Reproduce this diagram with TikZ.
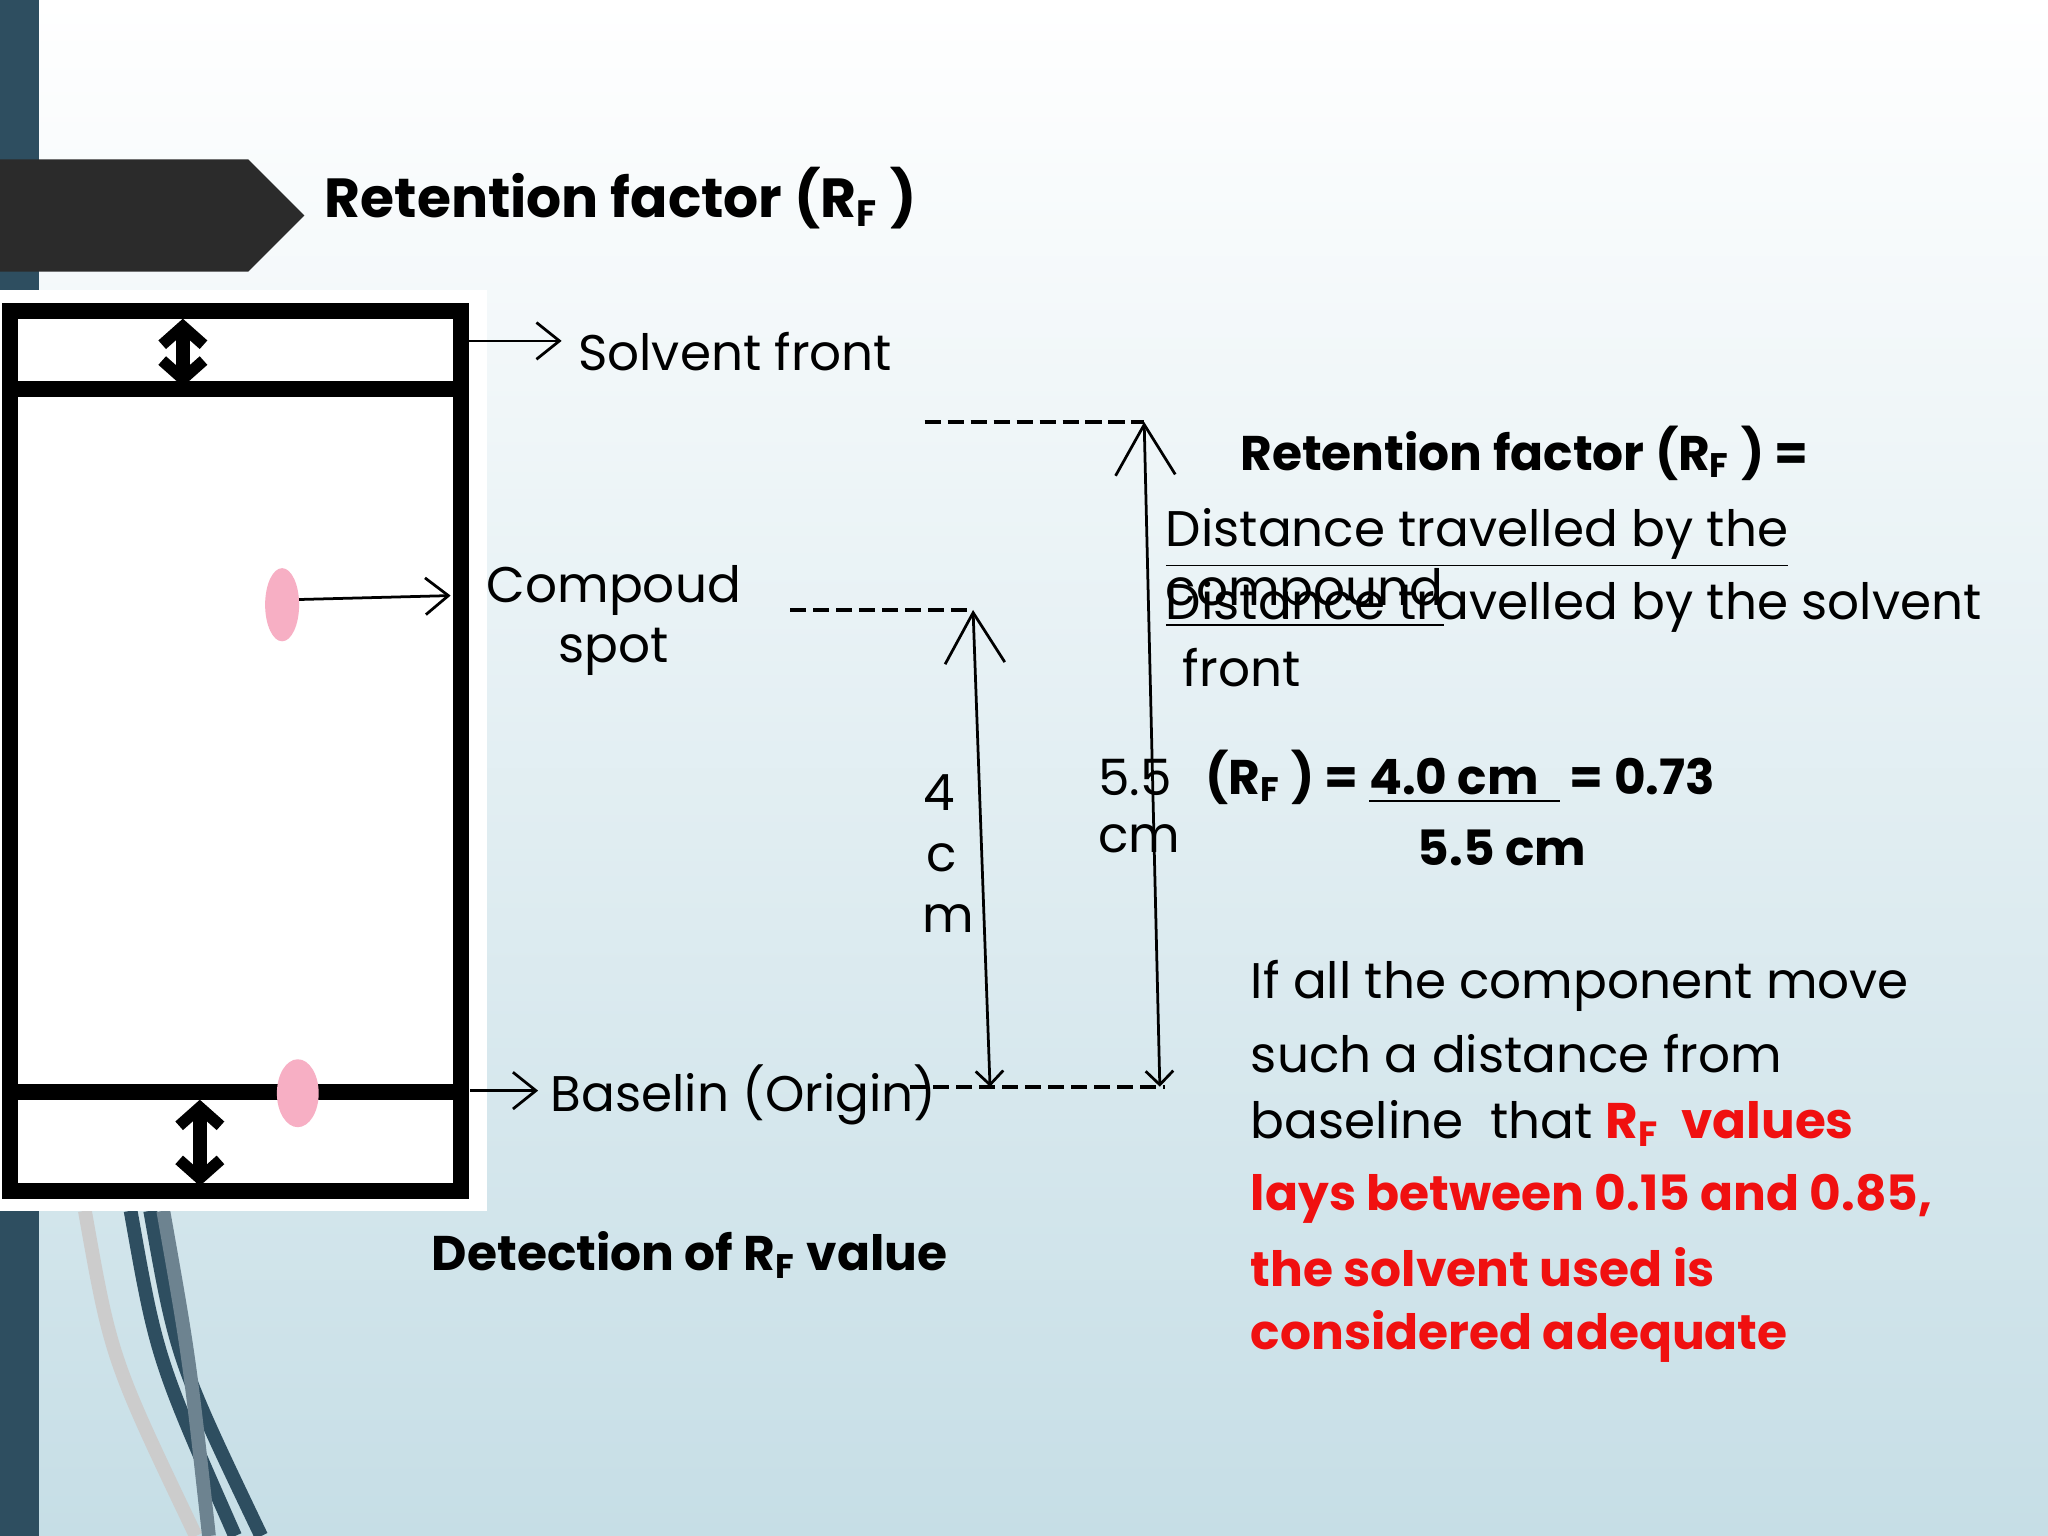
\documentclass[tikz,border=0pt]{standalone}
\usepackage{fontspec}
\setmainfont{Poppins}
\usetikzlibrary{arrows.meta}
\definecolor{teal}{HTML}{2E4E60}
\definecolor{pk}{HTML}{F7AFC4}
\definecolor{rd}{HTML}{F01010}
\definecolor{bgb}{HTML}{C6DEE6}
\begin{document}
\begin{tikzpicture}[x=0.01cm,y=-0.01cm,
 txt/.style={anchor=west,inner sep=0pt,font=\fontsize{10.9}{13}\selectfont},
 btxt/.style={txt,font=\fontsize{10.6}{13}\selectfont\bfseries},
 thin/.style={line width=0.6pt},
 dbl/.style={line width=3pt,{Straight Barb[length=4pt,width=9pt,line width=2.5pt]}-{Straight Barb[length=4pt,width=9pt,line width=2.5pt]}},
 dsh/.style={line width=0.8pt,dash pattern=on 3.5pt off 1.5pt}]
\useasboundingbox (0,0) rectangle (1568,1176);
\shade[top color=white,bottom color=bgb] (0,0) rectangle (1568,1176);
\fill[teal] (0,0) rectangle (30,1176);
\foreach \a/\b/\c in {100/180/teal,115/200/teal,65/150/gray!40,125/160/teal!70}
  \draw[line width=3pt,\c] (\a,927) .. controls (\a+20,1040) .. (\b,1176);
\fill[black!83] (0,122) -- (190,122) -- (233,165) -- (190,208) -- (0,208) -- cycle;
\node[btxt,font=\fontsize{12}{14}\selectfont\bfseries] (title) at (248,152) {Retention factor (R\textsubscript{F} )};
\fill[white] (0,222) rectangle (373,927);
\draw[line width=3.5pt] (8,238) rectangle (353,912);
\draw[line width=3.5pt] (8,298) -- (353,298) (8,836) -- (353,836);
\coordinate (u1) at (140,244); \coordinate (u2) at (140,296);
\coordinate (l1) at (153,842); \coordinate (l2) at (153,908);
\draw[dbl] (u1) -- (u2);
\draw[dbl] (l1) -- (l2);
\fill[pk] (216,463) ellipse [x radius=13,y radius=28];
\fill[pk] (228,837) ellipse [x radius=16,y radius=26];
\coordinate (s1) at (355,261); \coordinate (s2) at (430,261);
\draw[thin,-{Straight Barb[length=5pt,width=8pt]}] (s1) -- (s2);
\node[txt] (sf) at (442,269) {Solvent front};
\coordinate (c1) at (229,459); \coordinate (c2) at (345,456);
\draw[thin,-{Straight Barb[length=5pt,width=8pt]}] (c1) -- (c2);
\node[txt,anchor=center,align=center] (cs) at (470,475) {Compoud\\spot};
\coordinate (b1) at (360,835); \coordinate (b2) at (412,835);
\draw[thin,-{Straight Barb[length=5pt,width=8pt]}] (b1) -- (b2);
\node[txt] (bo) at (421,838) {Baselin (Origin)};
\draw[dsh] (708,323) -- (876,323);
\draw[dsh] (605,467) -- (745,467);
\draw[dsh] (697,832) -- (892,832);
\coordinate (a1) at (758,832); \coordinate (a2) at (745,467);
\coordinate (d1) at (888,832); \coordinate (d2) at (876,323);
\draw[thin,{Straight Barb[length=3pt,width=6pt]}-{Straight Barb[length=11pt,width=13pt]}] (a1) -- (a2);
\draw[thin,{Straight Barb[length=3pt,width=6pt]}-{Straight Barb[length=11pt,width=13pt]}] (d1) -- (d2);
\node[txt,anchor=center] (n4) at (719,607) {4};
\node[txt,anchor=center] (nc) at (721,657) {c};
\node[txt,anchor=center] (nm) at (726,703) {m};
\node[txt] (n55) at (840,595) {5.5};
\node[txt] (ncm) at (840,642) {cm};
\node[btxt] (rf) at (949,347) {Retention factor (R\textsubscript{F} ) =};
\node[txt] (d1t) at (892,412) {\underline{Distance travelled by the}};
\node[txt] (d2t) at (892,458) {\underline{compound}};
\node[txt] (d3t) at (892,465) {Distance travelled by the solvent};
\node[txt] (d4t) at (905,511) {front};
\node[btxt] (eq) at (922,595) {(R\textsubscript{F} ) = \underline{4.0 cm\ \ } = 0.73};
\node[btxt,anchor=center] (den) at (1150,649) {5.5 cm};
\node[txt] (p1) at (957,755) {If all the component move};
\node[txt] (p2) at (957,807) {such a distance from};
\node[txt] (p3) at (957,860) {baseline\ \ that {\color{rd}\bfseries R\textsubscript{F}\ \ values}};
\node[btxt,text=rd] (p4) at (957,918) {lays between 0.15 and 0.85,};
\node[btxt,text=rd] (p5) at (957,970) {the solvent used is};
\node[btxt,text=rd] (p6) at (957,1023) {considered adequate};
\node[btxt] (det) at (330,961) {Detection of R\textsubscript{F} value};
\end{tikzpicture}
\end{document}
